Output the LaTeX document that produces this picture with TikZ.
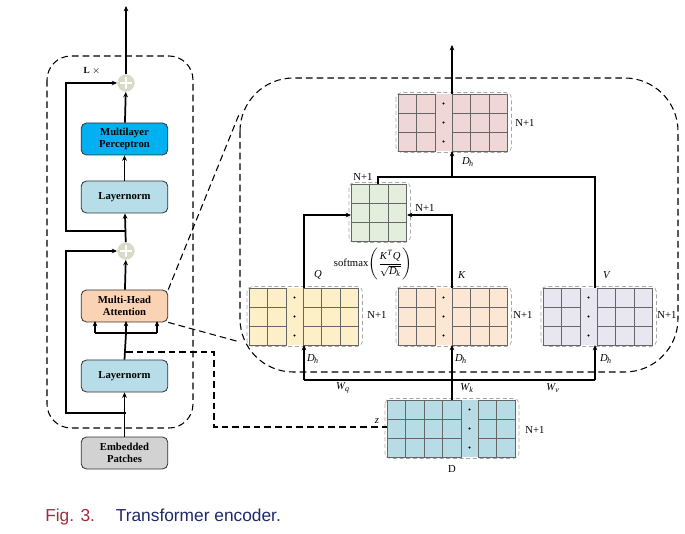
\documentclass[tikz,border=0pt]{standalone}
\usepackage{fontspec}
\setmainfont{Liberation Serif}
\newfontfamily\capfont{Liberation Sans}
\usetikzlibrary{arrows.meta}
\definecolor{mlp}{RGB}{0,176,240}
\definecolor{ln}{RGB}{183,222,232}
\definecolor{mha}{RGB}{250,210,180}
\definecolor{emb}{RGB}{210,210,210}
\definecolor{cpink}{RGB}{240,215,215}
\definecolor{cgreen}{RGB}{228,238,220}
\definecolor{cyel}{RGB}{253,240,200}
\definecolor{cpeach}{RGB}{252,230,212}
\definecolor{clav}{RGB}{232,230,240}
\definecolor{cblue}{RGB}{183,220,230}
\definecolor{plusc}{RGB}{215,220,200}
\definecolor{capred}{RGB}{170,40,60}
\definecolor{capblue}{RGB}{30,40,110}
\newcommand\iv[2]{\textit{#1}\textsubscript{\kern-0.5pt\textit{#2}}}
\tikzset{
 blk/.style={draw=black!80,line width=0.6pt,rounded corners=4pt,minimum width=65pt,minimum height=24pt,align=center,font=\bfseries\fontsize{8}{9}\selectfont,inner sep=1pt},
 ar/.style={line width=1.3pt,-{Stealth[length=4pt,width=3.5pt]}},
 ln2/.style={line width=1.3pt},
 dsh/.style={dashed,dash pattern=on 5pt off 3pt,line width=0.8pt},
 lab/.style={font=\fontsize{8}{9}\selectfont,inner sep=1pt},
 plus/.style={circle,fill=plusc,minimum size=13pt,inner sep=0pt},
}
\newcommand\gmat[6]{% name, xleft, ytop, nleft, nright, color
 \ifnum#5>0 \pgfmathsetmacro\mwd{(#4+#5)*18.5+17}\else\pgfmathsetmacro\mwd{#4*18.5}\fi
 \draw[gray!70,densely dashed,line width=0.5pt,rounded corners=4pt] (#2-2,#3-1.5) rectangle ++(\mwd+6,60);
 \node[fill=#6,minimum width=\mwd*0.75pt,minimum height=42.75pt,anchor=north west,inner sep=0pt] (#1) at (#2,#3) {};
 \foreach \r in {0,1,2}{
  \foreach \c in {1,...,#4}{\draw[black!60,line width=0.5pt] (#2+\c*18.5-18.5,#3+\r*19) rectangle ++(18.5,19);}
  \ifnum#5>0
  \foreach \c in {1,...,#5}{\draw[black!60,line width=0.5pt] (#2+#4*18.5+17+\c*18.5-18.5,#3+\r*19) rectangle ++(18.5,19);}
  \fill (#2+#4*18.5+8.5,#3+\r*19+9.5) circle (0.8pt);
  \fi
 }
}
\begin{document}
\begin{tikzpicture}[x=0.75pt,y=-0.75pt]
\useasboundingbox (0,0) rectangle (685,534);
% left panel
\draw[dsh,rounded corners=18pt] (47,56) rectangle (193,428);
\node[font=\bfseries\fontsize{7}{8}\selectfont] (L) at (92,71) {L $\times$};
\node[plus] (p1) at (126,83) {};
\node[plus] (p2) at (126,251) {};
\draw[white,line width=1.6pt] (120,83)--(132,83) (126,77)--(126,89) (120,251)--(132,251) (126,245)--(126,257);
\node[blk,fill=mlp] (mlp) at (124.5,139) {Multilayer\\Perceptron};
\node[blk,fill=ln] (ln1) at (124.5,197) {Layernorm};
\node[blk,fill=mha] (mha) at (124.5,306) {Multi-Head\\Attention};
\node[blk,fill=ln] (ln2) at (124.5,376) {Layernorm};
\node[blk,fill=emb] (emb) at (124.5,453) {Embedded\\Patches};
\coordinate (top) at (126,6);
\draw[ar] (p1) -- (top);
\draw[ar] (mlp) -- (p1);
\draw[ar] (ln1) -- (mlp);
\draw[ar] (p2) -- (ln1);
\draw[ar] (mha) -- (p2);
\draw[ar] (emb) -- (ln2);
\draw[ar] (126,231) -- (66,231) -- (66,83) -- (p1);
\draw[ar] (126,413) -- (66,413) -- (66,251) -- (p2);
\draw[ln2] (ln2.north) -- (126,333);
\draw[ln2] (95,333) -- (157,333);
\draw[ar] (95,333) -- (95,321);
\draw[ar] (126,333) -- (126,321);
\draw[ar] (157,333) -- (157,321);
% zoom lines
\draw[dsh] (mha.north east) -- (240,112);
\draw[dsh] (mha.south east) -- (240,342);
% right panel
\draw[dsh,rounded corners=40pt] (240,78) rectangle (678,372);
\gmat{mo}{398}{94}{2}{3}{cpink}
\gmat{mg}{351}{184}{3}{0}{cgreen}
\gmat{mq}{249}{288}{2}{3}{cyel}
\gmat{mk}{398}{288}{2}{3}{cpeach}
\gmat{mv}{543}{288}{2}{3}{clav}
\gmat{md}{387}{400}{4}{2}{cblue}
% labels
\node[lab] (n1) at (525,123) {N+1};
\node[lab] (dh0) at (468,162) {\iv{D}{h}};
\node[lab] (n2) at (363,177) {N+1};
\node[lab] (n3) at (425,208) {N+1};
\node[lab,font=\fontsize{8}{9}\selectfont] (sm) at (373,264) {softmax$\left(\displaystyle\frac{\hbox{\textit{K}\textsuperscript{\textit{T}}\textit{Q}}}{\sqrt{\hbox{\iv{D}{k}}}}\right)$};
\node[lab] (lq) at (318,275) {\textit{Q}};
\node[lab] (lk) at (462,275) {\textit{K}};
\node[lab] (lv) at (607,275) {\textit{V}};
\node[lab] (nq) at (377,315) {N+1};
\node[lab] (nk) at (523,315) {N+1};
\node[lab] (nv) at (667,315) {N+1};
\node[lab] (dq) at (313,359) {\iv{D}{h}};
\node[lab] (dk) at (461,359) {\iv{D}{h}};
\node[lab] (dv) at (606,359) {\iv{D}{h}};
\node[lab] (wq) at (343,388) {\iv{W}{q}};
\node[lab] (wk) at (467,388) {\iv{W}{k}};
\node[lab] (wv) at (553,388) {\iv{W}{v}};
\node[lab] (nd) at (535,430) {N+1};
\node[lab] (ld) at (452,469) {D};
\node[lab] (lz) at (377,421) {\textit{z}};
% connectors
\draw[ln2] (452,400) -- (452,380);
\draw[ln2] (304,380) -- (595,380);
\draw[ar] (304,380) -- (304,345);
\draw[ar] (452,380) -- (452,345);
\draw[ar] (595,380) -- (595,345);
\draw[ar] (304,288) -- (304,215) -- (351,215);
\draw[ar] (452,288) -- (452,215) -- (407,215);
\draw[ln2] (378,184) -- (378,177) -- (595,177) -- (595,288);
\draw[ar] (452,177) -- (452,151);
\draw[ar] (452,94) -- (452,45);
\draw[dsh] (126,352) -- (214,352) -- (214,427) -- (387,427);
% caption
\node[anchor=west,font=\capfont\fontsize{13}{15}\selectfont,inner sep=0pt] (cap) at (45,517) {\textcolor{capred}{Fig. 3.}\hspace{1.2em}\textcolor{capblue}{Transformer encoder.}};
\end{tikzpicture}
\end{document}
